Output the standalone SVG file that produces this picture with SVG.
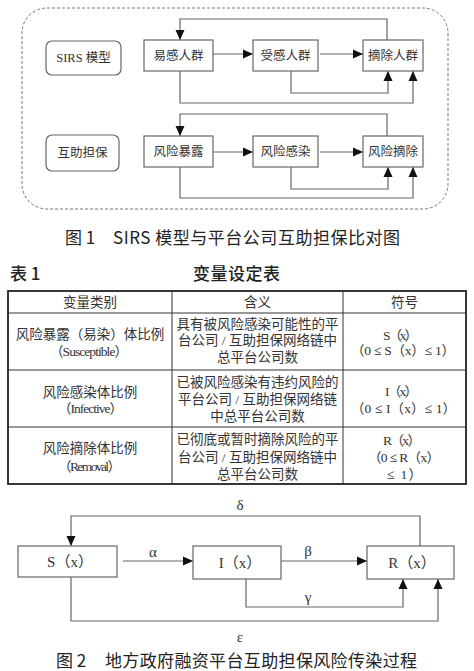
<svg xmlns="http://www.w3.org/2000/svg" width="474" height="671" viewBox="0 0 474 671">
<defs>
<style>
.bx{fill:#fff;stroke:#666;stroke-width:1.2}
.ln{fill:none;stroke:#666;stroke-width:1.2}
.t{font-family:"Liberation Serif","Noto Sans CJK SC",serif;fill:#333;text-anchor:middle;dominant-baseline:central}
.s{text-anchor:start}
.f1{font-size:12.5px}
.tb{font-size:13.5px}
.f2{font-size:15px}
.cap{font-family:"Noto Sans CJK SC","Liberation Sans",sans-serif;fill:#222;font-size:17px;dominant-baseline:central}
.tl{stroke:#333;stroke-width:1}
.to{fill:none;stroke:#222;stroke-width:1.8}
</style>
<marker id="ah" markerUnits="userSpaceOnUse" markerWidth="10" markerHeight="10" viewBox="0 0 10 10" refX="10" refY="5" orient="auto">
<path d="M0,0.5 L10,5 L0,9.5 Z" fill="#111"/>
</marker>
</defs>
<rect x="22" y="8" width="426" height="201" rx="25" fill="none" stroke="#777" stroke-width="1" stroke-dasharray="3,2"/>
<g id="fig1-connectors">
<path class="ln" d="M213,54 H253" marker-end="url(#ah)"/>
<path class="ln" d="M320,54 H363" marker-end="url(#ah)"/>
<path class="ln" d="M387,40 V19 H180 V40" marker-end="url(#ah)"/>
<path class="ln" d="M291,71 V93 H388 V71" marker-end="url(#ah)"/>
<path class="ln" d="M180,71 V103 H413 V71" marker-end="url(#ah)"/>
<path class="ln" d="M213,152 H253" marker-end="url(#ah)"/>
<path class="ln" d="M320,152 H363" marker-end="url(#ah)"/>
<path class="ln" d="M387,136 V114 H180 V136" marker-end="url(#ah)"/>
<path class="ln" d="M291,167 V189 H388 V167" marker-end="url(#ah)"/>
<path class="ln" d="M180,167 V198 H413 V167" marker-end="url(#ah)"/>
</g>
<g id="n-sirs"><rect class="bx" x="46" y="41" width="75" height="34" rx="6"/><text class="t f1" x="83.5" y="58">SIRS 模型</text></g>
<g id="n-yigan"><rect class="bx" x="144" y="40" width="69" height="31"/><text class="t f1" x="178.5" y="55.5">易感人群</text></g>
<g id="n-shougan"><rect class="bx" x="253" y="40" width="65" height="31"/><text class="t f1" x="285.5" y="55.5">受感人群</text></g>
<g id="n-zhaichu"><rect class="bx" x="363" y="40" width="60" height="31"/><text class="t f1" x="393" y="55.5">摘除人群</text></g>
<g id="n-huzhu"><rect class="bx" x="46" y="135" width="73" height="36" rx="6"/><text class="t f1" x="82.5" y="153">互助担保</text></g>
<g id="n-baolu"><rect class="bx" x="144" y="136" width="69" height="31"/><text class="t f1" x="178.5" y="151.5">风险暴露</text></g>
<g id="n-ganran"><rect class="bx" x="253" y="136" width="65" height="31"/><text class="t f1" x="285.5" y="151.5">风险感染</text></g>
<g id="n-zhai"><rect class="bx" x="363" y="136" width="60" height="31"/><text class="t f1" x="393" y="151.5">风险摘除</text></g>
<text class="cap" x="65" y="236">图 1</text>
<text class="cap" x="113" y="236" textLength="287" lengthAdjust="spacing">SIRS 模型与平台公司互助担保比对图</text>
<text class="cap" x="10" y="272" font-weight="500">表 1</text>
<text class="cap" x="193" y="272" font-weight="500" textLength="87" lengthAdjust="spacing">变量设定表</text>
<g id="table1">
<line class="tl" x1="8" y1="313" x2="466" y2="313"/>
<line class="tl" x1="8" y1="370" x2="466" y2="370"/>
<line class="tl" x1="8" y1="427" x2="466" y2="427"/>
<line class="tl" x1="172" y1="291" x2="172" y2="484"/>
<line class="tl" x1="343" y1="291" x2="343" y2="484"/>
<rect class="to" x="8" y="291" width="458" height="193"/>
<text class="t tb" x="90" y="302">变量类别</text>
<text class="t tb" x="257.5" y="302">含义</text>
<text class="t tb" x="404.5" y="302">符号</text>
<text class="t tb" x="90" y="334">风险暴露（易染）体比例</text>
<text class="t tb s" x="50" y="351" textLength="78" lengthAdjust="spacing">（Susceptible）</text>
<text class="t tb" x="257.5" y="324">具有被风险感染可能性的平</text>
<text class="t tb" x="257.5" y="340">台公司 / 互助担保网络链中</text>
<text class="t tb" x="257.5" y="357">总平台公司数</text>
<text class="t tb s" x="383" y="335" textLength="35" lengthAdjust="spacing">S（x）</text>
<text class="t tb s" x="351" y="350" textLength="104" lengthAdjust="spacing">（0 ≤ S（x）≤ 1）</text>
<text class="t tb" x="90" y="392">风险感染体比例</text>
<text class="t tb s" x="58" y="408" textLength="65" lengthAdjust="spacing">（Infective）</text>
<text class="t tb" x="257.5" y="382">已被风险感染有违约风险的</text>
<text class="t tb" x="257.5" y="399">平台公司 / 互助担保网络链</text>
<text class="t tb" x="257.5" y="416">中总平台公司数</text>
<text class="t tb s" x="385" y="391" textLength="33" lengthAdjust="spacing">I（x）</text>
<text class="t tb s" x="351" y="408" textLength="105" lengthAdjust="spacing">（0 ≤ I（x）≤ 1）</text>
<text class="t tb" x="90" y="448">风险摘除体比例</text>
<text class="t tb s" x="58" y="466" textLength="63" lengthAdjust="spacing">（Removal）</text>
<text class="t tb" x="257.5" y="439">已彻底或暂时摘除风险的平</text>
<text class="t tb" x="257.5" y="457">台公司 / 互助担保网络链中</text>
<text class="t tb" x="257.5" y="474">总平台公司数</text>
<text class="t tb s" x="383" y="440" textLength="38" lengthAdjust="spacing">R（x）</text>
<text class="t tb s" x="368" y="457" textLength="72" lengthAdjust="spacing">（0 ≤ R（x）</text>
<text class="t tb s" x="387" y="474" textLength="35" lengthAdjust="spacing">≤ 1）</text>
</g>
<g id="fig2-connectors">
<path class="ln" d="M123,561 H193" marker-end="url(#ah)"/>
<path class="ln" d="M281,561 H367" marker-end="url(#ah)"/>
<path class="ln" d="M420,546 V516 H71 V546" marker-end="url(#ah)"/>
<path class="ln" d="M246,579 V607 H403 V579" marker-end="url(#ah)"/>
<path class="ln" d="M71,577 V621 H438 V579" marker-end="url(#ah)"/>
<text class="t f2" x="153" y="552">α</text>
<text class="t f2" x="308" y="551">β</text>
<text class="t f2" x="240" y="505">δ</text>
<text class="t f2" x="308" y="597">γ</text>
<text class="t f2" x="240" y="637">ε</text>
</g>
<g id="n-S"><rect class="bx" x="18" y="546" width="99" height="31"/><text class="t f2" x="70" y="561.5">S（x）</text></g>
<g id="n-I"><rect class="bx" x="193" y="546" width="88" height="33"/><text class="t f2" x="240" y="562.5">I（x）</text></g>
<g id="n-R"><rect class="bx" x="367" y="546" width="87" height="33"/><text class="t f2" x="412" y="562.5">R（x）</text></g>
<text class="cap" x="56" y="659">图 2</text>
<text class="cap" x="105" y="659" textLength="312" lengthAdjust="spacing">地方政府融资平台互助担保风险传染过程</text>
</svg>
